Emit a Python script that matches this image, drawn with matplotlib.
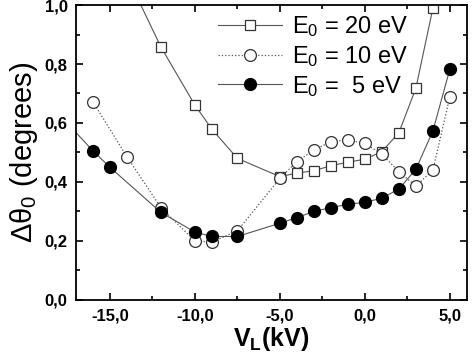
import matplotlib
matplotlib.use("Agg")
import matplotlib.pyplot as plt
from matplotlib.ticker import FuncFormatter, MultipleLocator

plt.rcParams["font.family"] = ["Liberation Sans", "DejaVu Sans"]
plt.rcParams["mathtext.fontset"] = "custom"
plt.rcParams["mathtext.rm"] = "Liberation Sans"
plt.rcParams["mathtext.it"] = "Liberation Sans"
plt.rcParams["mathtext.bf"] = "Liberation Sans:bold"

# E0 = 20 eV (open squares); first point lies above the plotted range
vl_20 = [-15, -12, -10, -9, -7.5, -5, -4, -3, -2, -1, 0, 1, 2, 3, 4]
dt_20 = [1.22, 0.858, 0.661, 0.579, 0.48, 0.418, 0.43, 0.438, 0.455, 0.467,
         0.477, 0.503, 0.567, 0.718, 0.989]

# E0 = 10 eV (open circles)
vl_10 = [-16, -14, -12, -10, -9, -7.5, -5, -4, -3, -2, -1, 0, 1, 2, 3, 4, 5]
dt_10 = [0.672, 0.486, 0.313, 0.20, 0.196, 0.234, 0.412, 0.469, 0.508, 0.537,
         0.542, 0.531, 0.494, 0.435, 0.386, 0.44, 0.689]

# E0 = 5 eV (filled circles); first point lies left of the plotted range
vl_5 = [-18, -16, -15, -12, -10, -9, -7.5, -5, -4, -3, -2, -1, 0, 1, 2, 3, 4, 5]
dt_5 = [0.63, 0.506, 0.45, 0.297, 0.23, 0.215, 0.215, 0.26, 0.279, 0.30, 0.313,
        0.324, 0.331, 0.345, 0.376, 0.443, 0.573, 0.783]

fig = plt.figure(figsize=(4.74, 3.6), dpi=100)
ax = fig.add_axes([0.160, 0.167, 0.825, 0.819])

line_c = "#555555"
ax.plot(vl_20, dt_20, "-", color=line_c, lw=0.8, marker="s", ms=7.5,
        mfc="white", mec="#333333", mew=0.9, label="E$_0$ = 20 eV")
ax.plot(vl_10, dt_10, ":", color=line_c, lw=0.9, marker="o", ms=8.5,
        mfc="white", mec="#333333", mew=0.9, label="E$_0$ = 10 eV")
ax.plot(vl_5, dt_5, "-", color=line_c, lw=0.8, marker="o", ms=8.5,
        mfc="black", mec="black", label="E$_0$ =  5 eV")

ax.set_xlim(-17, 6)
ax.set_ylim(0, 1.0)
ax.xaxis.set_major_locator(MultipleLocator(5))
ax.xaxis.set_minor_locator(MultipleLocator(2.5))
ax.yaxis.set_major_locator(MultipleLocator(0.2))
ax.yaxis.set_minor_locator(MultipleLocator(0.1))
comma = FuncFormatter(lambda v, p: f"{v:.1f}".replace(".", ","))
ax.xaxis.set_major_formatter(comma)
ax.yaxis.set_major_formatter(comma)
ax.tick_params(which="both", direction="in", top=True, right=True, width=1.2)
ax.tick_params(which="major", length=5, labelsize=12, pad=6)
ax.tick_params(which="minor", length=3)
for lab in ax.get_xticklabels() + ax.get_yticklabels():
    lab.set_fontweight("bold")
for s in ax.spines.values():
    s.set_linewidth(1.3)

ax.set_xlabel("V$_\\mathbf{L}$(kV)", fontsize=18, fontweight="bold", labelpad=1)
ax.set_ylabel("Δθ$_0$ (degrees)", fontsize=21, labelpad=3)

ax.legend(loc="upper left", bbox_to_anchor=(0.31, 1.04), frameon=False,
          fontsize=17, handlelength=2.7, handletextpad=0.4, labelspacing=0.2)

fig.savefig("out.png", dpi=100)
